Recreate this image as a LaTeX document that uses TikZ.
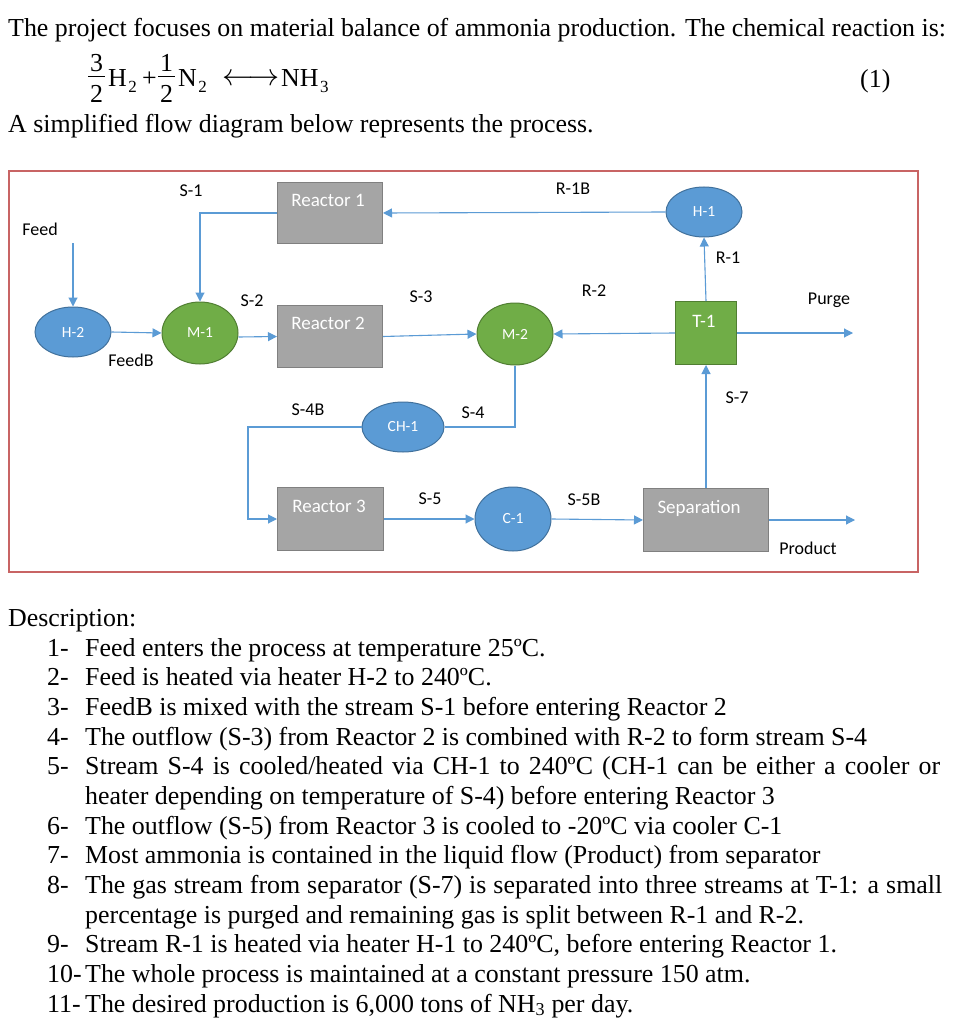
\documentclass[tikz,border=0pt]{standalone}
\usepackage{fontspec}
\usepackage{graphicx}
\setmainfont{Liberation Serif}
\newfontfamily\calibrifont{Carlito}
\usetikzlibrary{arrows.meta,shapes.geometric}
\definecolor{flowblue}{HTML}{5B9BD5}
\definecolor{blueedge}{HTML}{41719C}
\definecolor{greenfill}{HTML}{70AD47}
\definecolor{greenedge}{HTML}{507E32}
\definecolor{grayfill}{HTML}{A5A5A5}
\definecolor{grayedge}{HTML}{808080}
\definecolor{framered}{RGB}{200,100,100}
\tikzset{
  flow/.style={draw=flowblue, line width=1.1pt, -{Triangle[length=9pt,width=9pt]}},
  flowline/.style={draw=flowblue, line width=1.1pt},
  ellbase/.style={ellipse, line width=1pt, inner sep=0pt, text=white, font=\calibrifont\fontsize{15.5}{18}\selectfont},
  blueell/.style={ellbase, draw=blueedge, fill=flowblue},
  greenell/.style={ellbase, draw=greenedge, fill=greenfill},
  graybox/.style={rectangle, draw=grayedge, fill=grayfill, line width=1pt, inner sep=0pt, anchor=north west},
  greenbox/.style={rectangle, draw=greenedge, fill=greenfill, line width=1pt, inner sep=0pt, anchor=north west},
  boxtext/.style={text=white, font=\calibrifont\fontsize{19}{22}\selectfont, inner sep=0pt},
  lab/.style={font=\calibrifont\fontsize{18}{21}\selectfont, inner sep=0pt},
  body/.style={font=\fontsize{25.9}{30}\selectfont, inner sep=0pt, anchor=base west},
  subsc/.style={font=\fontsize{17}{20}\selectfont, inner sep=0pt, anchor=base west, xshift=1pt, yshift=-6pt}
}
\begin{document}
\begin{tikzpicture}[x=1pt,y=-1pt]
\useasboundingbox (0,0) rectangle (967,1024);
\fill[white] (0,0) rectangle (967,1024);

% ---------- heading ----------
\node[body] (l1) at (8,37) {The project focuses on material balance of ammonia production. The chemical reaction is:};
% equation
\node[body] (eqa) at (90,72) {3};
\node[body] (eqb) at (90,103) {2};
\draw[line width=0.9pt] (88,76.5) -- (105,76.5);
\node[body] (eqh) at (108,87) {H};
\node[subsc] (eqhs) at (eqh.base east) {2};
\node[body] (eqplus) at (142,87) {+};
\node[body] (eqd) at (160,72) {1};
\node[body] (eqe) at (160,103) {2};
\draw[line width=0.9pt] (158,76.5) -- (175,76.5);
\node[body] (eqnn) at (178,87) {N};
\node[subsc] (eqns) at (eqnn.base east) {2};
\node[inner sep=0pt] (eqarrow) at (251,79.5) {\resizebox{57pt}{!}{$\longleftrightarrow$}};
\node[body] (eqnh) at (281,87) {NH};
\node[subsc] (eqnhs) at (eqnh.base east) {3};
\node[body] (eqn) at (860,88) {(1)};
\node[body] (l3) at (8,133) {A simplified flow diagram below represents the process.};

% ---------- frame ----------
\draw[framered, line width=1.8pt] (9,171) rectangle (918,572);

% ---------- units ----------
\node[graybox, minimum width=105, minimum height=61] (r1) at (277,182) {};
\node[graybox, minimum width=105, minimum height=62] (r2) at (277,305) {};
\node[graybox, minimum width=106, minimum height=63] (r3) at (277,487) {};
\node[graybox, minimum width=125, minimum height=63] (sep) at (643,488) {};
\node[greenbox, minimum width=61, minimum height=63] (t1) at (675,301) {};
\node[boxtext] at (328,200) {Reactor 1};
\node[boxtext] at (328,323) {Reactor 2};
\node[boxtext] at (329,506) {Reactor 3};
\node[boxtext] at (699,508) {Separation};
\node[boxtext] at (704,321) {T-1};

\node[blueell, minimum width=76, minimum height=50] (h2) at (73,332) {H-2};
\node[greenell, minimum width=76, minimum height=62] (m1) at (200,333) {M-1};
\node[greenell, minimum width=76, minimum height=62] (m2) at (515,334) {M-2};
\node[blueell, minimum width=76, minimum height=50] (h1) at (704,212) {H-1};
\node[blueell, minimum width=82, minimum height=50] (ch1) at (403,427) {CH-1};
\node[blueell, minimum width=76, minimum height=64] (c1) at (513,519) {C-1};

% ---------- free ends ----------
\coordinate (feedin) at (73,243);
\coordinate (purgeout) at (853,333);
\coordinate (prodout) at (855,520);
\coordinate (s4bcorner) at (248,427);

% ---------- connectors ----------
\draw[flow] (feedin) -- (h2.north);
\draw[flow] (h2.east) -- (m1.west);
\draw[flow] (r1.west) -| (m1.north);
\draw[flow] (m1.east |- 0,337) -- (r2.west);
\draw[flow] (r2.east) -- (m2.west);
\draw[flow] (t1.west) -- (m2.east);
\draw[flow] (t1.east) -- (purgeout);
\draw[flow] (t1.north) -- (h1.south);
\draw[flow] (h1.west) -- (r1.east);
\draw[flowline] (m2.south) |- (ch1.east);
\draw[flow] (ch1.west) -- (s4bcorner) |- (r3.west);
\draw[flow] (r3.east) -- (c1.west);
\draw[flow] (c1.east) -- (sep.west);
\draw[flow] (sep.north) -- (t1.south);
\draw[flow] (sep.east) -- (prodout);

% ---------- stream labels ----------
\node[lab] at (40,229) {Feed};
\node[lab] at (191,191) {S-1};
\node[lab] at (573,189) {R-1B};
\node[lab] at (728,258) {R-1};
\node[lab] at (252,301) {S-2};
\node[lab] at (421,297) {S-3};
\node[lab] at (594,291) {R-2};
\node[lab] at (829,300) {Purge};
\node[lab] at (131,360) {FeedB};
\node[lab] at (308,410) {S-4B};
\node[lab] at (473,413) {S-4};
\node[lab] at (737,398) {S-7};
\node[lab] at (430,499) {S-5};
\node[lab] at (584,500) {S-5B};
\node[lab] at (808,548) {Product};

% ---------- description ----------
\node[body] (dh) at (8,626) {Description:};
\node[body] (i1n) at (47,656) {1-};
\node[body] (i1t) at (85,656) {Feed enters the process at temperature 25ºC.};
\node[body] (i2n) at (47,685.6) {2-};
\node[body] (i2t) at (85,685.6) {Feed is heated via heater H-2 to 240ºC.};
\node[body] (i3n) at (47,715.3) {3-};
\node[body] (i3t) at (85,715.3) {FeedB is mixed with the stream S-1 before entering Reactor 2};
\node[body] (i4n) at (47,745) {4-};
\node[body] (i4t) at (85,745) {The outflow (S-3) from Reactor 2 is combined with R-2 to form stream S-4};
\node[body] (i5n) at (47,774.7) {5-};
\node[body] (i5t) at (85,774.7) {\makebox[855pt][s]{Stream S-4 is cooled/heated via CH-1 to 240ºC (CH-1 can be either a cooler or}};
\node[body] (i5u) at (85,804.3) {heater depending on temperature of S-4) before entering Reactor 3};
\node[body] (i6n) at (47,834) {6-};
\node[body] (i6t) at (85,834) {The outflow (S-5) from Reactor 3 is cooled to -20ºC via cooler C-1};
\node[body] (i7n) at (47,863.7) {7-};
\node[body] (i7t) at (85,863.7) {Most ammonia is contained in the liquid flow (Product) from separator};
\node[body] (i8n) at (47,893.3) {8-};
\node[body] (i8t) at (85,893.3) {\makebox[857pt][s]{The gas stream from separator (S-7) is separated into three streams at T-1: a small}};
\node[body] (i8u) at (85,923) {percentage is purged and remaining gas is split between R-1 and R-2.};
\node[body] (i9n) at (47,952.7) {9-};
\node[body] (i9t) at (85,952.7) {Stream R-1 is heated via heater H-1 to 240ºC, before entering Reactor 1.};
\node[body] (i10n) at (47,982.3) {10-};
\node[body] (i10t) at (85,982.3) {The whole process is maintained at a constant pressure 150 atm.};
\node[body] (i11n) at (47,1012) {11-};
\node[body] (i11t) at (85,1012) {The desired production is 6,000 tons of NH\textsubscript{3} per day.};
\end{tikzpicture}
\end{document}
